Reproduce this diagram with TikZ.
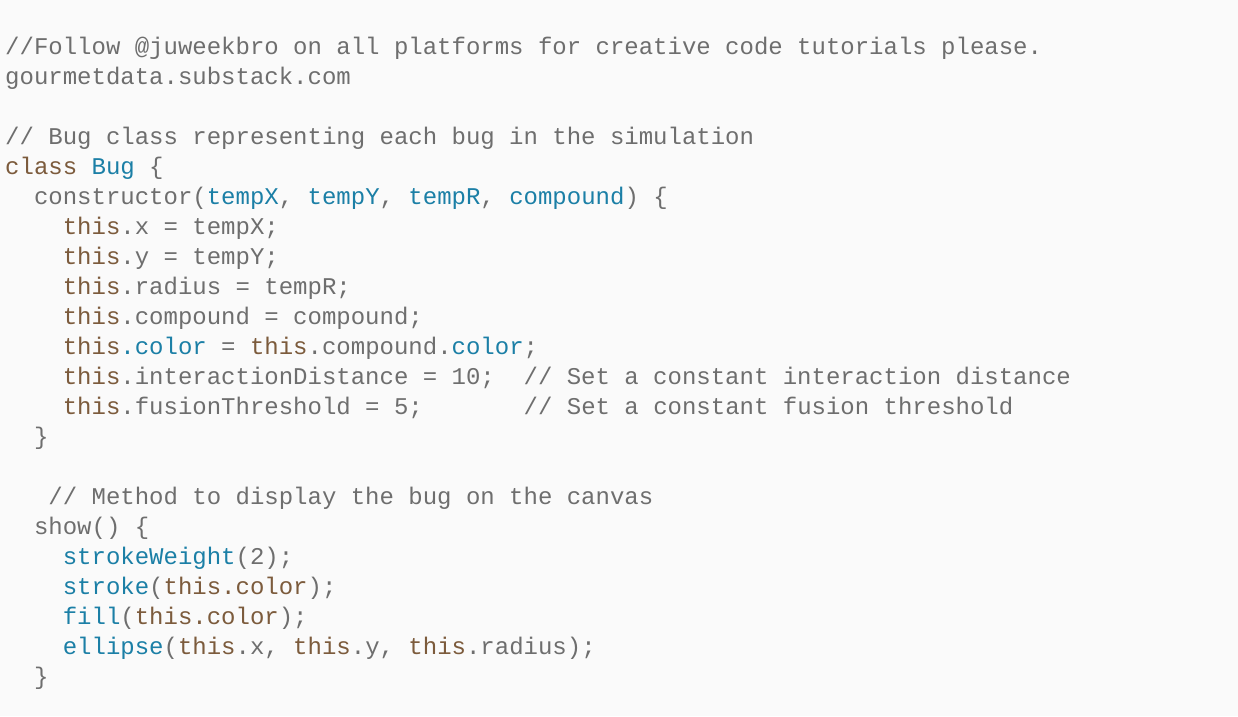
\documentclass[tikz,border=0pt]{standalone}
\usepackage{fontspec}
\setmonofont{Liberation Mono}
\definecolor{cg}{HTML}{6E6E6E}
\definecolor{cb}{HTML}{7C5B3C}
\definecolor{cu}{HTML}{1B7FA6}
\definecolor{bg}{HTML}{FAFAFA}
\newcommand{\B}[1]{\textcolor{cb}{#1}}
\newcommand{\U}[1]{\textcolor{cu}{#1}}
\begin{document}
\begin{tikzpicture}[x=1pt,y=-1pt,ln/.style={anchor=base west,inner sep=0pt,text=cg,font=\ttfamily\fontsize{24}{24}\selectfont}]
\fill[bg] (0,0) rectangle (1238,716);
\useasboundingbox (0,0) rectangle (1238,716);
\def\L#1#2#3{\node[ln] (#1) at (5,#2+8) {#3};}
\L{l1}{46}{//Follow @juweekbro on all platforms for creative code tutorials please.}
\L{l2}{76}{gourmetdata.substack.com}
\L{l3}{136}{// Bug class representing each bug in the simulation}
\L{l4}{166}{\B{class} \U{Bug} \{}
\L{l5}{196}{~~constructor(\U{tempX}, \U{tempY}, \U{tempR}, \U{compound}) \{}
\L{l6}{226}{~~~~\B{this}.x = tempX;}
\L{l7}{256}{~~~~\B{this}.y = tempY;}
\L{l8}{286}{~~~~\B{this}.radius = tempR;}
\L{l9}{316}{~~~~\B{this}.compound = compound;}
\L{l10}{346}{~~~~\B{this}\U{.color} = \B{this}.compound.\U{color};}
\L{l11}{376}{~~~~\B{this}.interactionDistance = 10;~~// Set a constant interaction distance}
\L{l12}{406}{~~~~\B{this}.fusionThreshold = 5;~~~~~~~// Set a constant fusion threshold}
\L{l13}{436}{~~\}}
\L{l14}{496}{~~~// Method to display the bug on the canvas}
\L{l15}{526}{~~show() \{}
\L{l16}{556}{~~~~\U{strokeWeight}(2);}
\L{l17}{586}{~~~~\U{stroke}(\B{this.color});}
\L{l18}{616}{~~~~\U{fill}(\B{this.color});}
\L{l19}{646}{~~~~\U{ellipse}(\B{this}.x, \B{this}.y, \B{this}.radius);}
\L{l20}{676}{~~\}}
\end{tikzpicture}
\end{document}
